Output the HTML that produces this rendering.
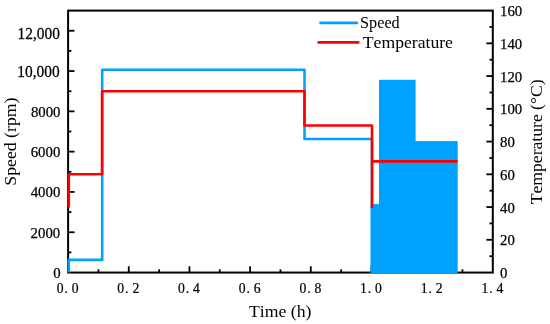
<!DOCTYPE html>
<html><head><meta charset="utf-8"><style>
html,body{margin:0;padding:0;background:#fff;}
svg{display:block;}
text{font-family:"Liberation Serif","Times New Roman",serif;fill:#000;font-kerning:none;}
.tk{stroke:#000;stroke-width:0.25px;}
.xl{stroke:#000;stroke-width:0.25px;}
</style></head><body>
<svg width="550" height="324" viewBox="0 0 550 324">
<rect width="550" height="324" fill="#fff"/>
<g stroke="#000" stroke-width="1.8" fill="none">
<rect x="68.1" y="10.6" width="424.70" height="261.95" fill="none" stroke="#000" stroke-width="2"/>
<line x1="68.1" y1="252.40" x2="71.40" y2="252.40"/>
<line x1="68.1" y1="232.25" x2="74.50" y2="232.25"/>
<line x1="68.1" y1="212.10" x2="71.40" y2="212.10"/>
<line x1="68.1" y1="191.95" x2="74.50" y2="191.95"/>
<line x1="68.1" y1="171.80" x2="71.40" y2="171.80"/>
<line x1="68.1" y1="151.65" x2="74.50" y2="151.65"/>
<line x1="68.1" y1="131.50" x2="71.40" y2="131.50"/>
<line x1="68.1" y1="111.35" x2="74.50" y2="111.35"/>
<line x1="68.1" y1="91.20" x2="71.40" y2="91.20"/>
<line x1="68.1" y1="71.05" x2="74.50" y2="71.05"/>
<line x1="68.1" y1="50.90" x2="71.40" y2="50.90"/>
<line x1="68.1" y1="30.75" x2="74.50" y2="30.75"/>
<line x1="492.8" y1="256.18" x2="489.50" y2="256.18"/>
<line x1="492.8" y1="239.81" x2="486.40" y2="239.81"/>
<line x1="492.8" y1="223.43" x2="489.50" y2="223.43"/>
<line x1="492.8" y1="207.06" x2="486.40" y2="207.06"/>
<line x1="492.8" y1="190.69" x2="489.50" y2="190.69"/>
<line x1="492.8" y1="174.32" x2="486.40" y2="174.32"/>
<line x1="492.8" y1="157.95" x2="489.50" y2="157.95"/>
<line x1="492.8" y1="141.58" x2="486.40" y2="141.58"/>
<line x1="492.8" y1="125.20" x2="489.50" y2="125.20"/>
<line x1="492.8" y1="108.83" x2="486.40" y2="108.83"/>
<line x1="492.8" y1="92.46" x2="489.50" y2="92.46"/>
<line x1="492.8" y1="76.09" x2="486.40" y2="76.09"/>
<line x1="492.8" y1="59.72" x2="489.50" y2="59.72"/>
<line x1="492.8" y1="43.34" x2="486.40" y2="43.34"/>
<line x1="492.8" y1="26.97" x2="489.50" y2="26.97"/>
<line x1="98.44" y1="272.55" x2="98.44" y2="269.35"/>
<line x1="128.77" y1="272.55" x2="128.77" y2="266.25"/>
<line x1="159.11" y1="272.55" x2="159.11" y2="269.35"/>
<line x1="189.44" y1="272.55" x2="189.44" y2="266.25"/>
<line x1="219.78" y1="272.55" x2="219.78" y2="269.35"/>
<line x1="250.11" y1="272.55" x2="250.11" y2="266.25"/>
<line x1="280.45" y1="272.55" x2="280.45" y2="269.35"/>
<line x1="310.79" y1="272.55" x2="310.79" y2="266.25"/>
<line x1="341.12" y1="272.55" x2="341.12" y2="269.35"/>
<line x1="371.46" y1="272.55" x2="371.46" y2="266.25"/>
<line x1="401.79" y1="272.55" x2="401.79" y2="269.35"/>
<line x1="432.13" y1="272.55" x2="432.13" y2="266.25"/>
<line x1="462.46" y1="272.55" x2="462.46" y2="269.35"/>
</g>
<rect x="370.7" y="204.1" width="8.60" height="69.10" fill="#00A2FF"/>
<rect x="379.0" y="79.8" width="36.60" height="193.40" fill="#00A2FF"/>
<rect x="415.0" y="141.1" width="42.70" height="132.10" fill="#00A2FF"/>
<polyline points="68.80,272.55 68.80,259.90 102.20,259.90 102.20,69.80 304.50,69.80 304.50,139.00 372.00,139.00 372.00,272.55" fill="none" stroke="#00A2FF" stroke-width="2.6" stroke-linejoin="round"/>
<polyline points="68.80,207.40 68.80,174.30 102.10,174.30 102.10,91.20 304.50,91.20 304.50,125.50 372.00,125.50 372.00,207.90" fill="none" stroke="#FF0000" stroke-width="2.6" stroke-linejoin="round"/>
<polyline points="372.00,161.40 457.50,161.40" fill="none" stroke="#FF0000" stroke-width="2.6" stroke-linejoin="round"/>
<text transform="translate(59.90,38.80) scale(1.000,1.030)" font-size="15.4" text-anchor="end" class="tk">12,000</text>
<text transform="translate(59.70,76.60) scale(1.000,1.030)" font-size="15.4" text-anchor="end" class="tk">10,000</text>
<text transform="translate(60.50,117.00)" font-size="14.8" text-anchor="end" class="tk">8000</text>
<text transform="translate(60.30,157.00)" font-size="14.8" text-anchor="end" class="tk">6000</text>
<text transform="translate(60.30,197.10)" font-size="14.8" text-anchor="end" class="tk">4000</text>
<text transform="translate(60.20,237.90)" font-size="14.8" text-anchor="end" class="tk">2000</text>
<text transform="translate(60.60,278.05)" font-size="14.8" text-anchor="end" class="tk">0</text>
<text transform="translate(500.00,278.15)" font-size="14.8" class="tk">0</text>
<text transform="translate(500.00,245.41)" font-size="14.8" class="tk">20</text>
<text transform="translate(500.00,212.66)" font-size="14.8" class="tk">40</text>
<text transform="translate(500.00,179.92)" font-size="14.8" class="tk">60</text>
<text transform="translate(500.00,147.18)" font-size="14.8" class="tk">80</text>
<text transform="translate(500.00,114.43)" font-size="14.8" class="tk">100</text>
<text transform="translate(500.00,81.69)" font-size="14.8" class="tk">120</text>
<text transform="translate(500.00,48.94)" font-size="14.8" class="tk">140</text>
<text transform="translate(500.00,16.20)" font-size="14.8" class="tk">160</text>
<text transform="translate(60.10,292.50) scale(0.900,1.000)" font-size="15.2" text-anchor="middle" class="xl">0</text>
<text transform="translate(66.15,292.50) scale(0.900,1.000)" font-size="15.2" text-anchor="middle" class="xl">.</text>
<text transform="translate(75.15,292.50) scale(0.900,1.000)" font-size="15.2" text-anchor="middle" class="xl">0</text>
<text transform="translate(120.77,292.50) scale(0.900,1.000)" font-size="15.2" text-anchor="middle" class="xl">0</text>
<text transform="translate(126.82,292.50) scale(0.900,1.000)" font-size="15.2" text-anchor="middle" class="xl">.</text>
<text transform="translate(135.82,292.50) scale(0.900,1.000)" font-size="15.2" text-anchor="middle" class="xl">2</text>
<text transform="translate(181.44,292.50) scale(0.900,1.000)" font-size="15.2" text-anchor="middle" class="xl">0</text>
<text transform="translate(187.49,292.50) scale(0.900,1.000)" font-size="15.2" text-anchor="middle" class="xl">.</text>
<text transform="translate(196.49,292.50) scale(0.900,1.000)" font-size="15.2" text-anchor="middle" class="xl">4</text>
<text transform="translate(242.11,292.50) scale(0.900,1.000)" font-size="15.2" text-anchor="middle" class="xl">0</text>
<text transform="translate(248.16,292.50) scale(0.900,1.000)" font-size="15.2" text-anchor="middle" class="xl">.</text>
<text transform="translate(257.16,292.50) scale(0.900,1.000)" font-size="15.2" text-anchor="middle" class="xl">6</text>
<text transform="translate(302.79,292.50) scale(0.900,1.000)" font-size="15.2" text-anchor="middle" class="xl">0</text>
<text transform="translate(308.84,292.50) scale(0.900,1.000)" font-size="15.2" text-anchor="middle" class="xl">.</text>
<text transform="translate(317.84,292.50) scale(0.900,1.000)" font-size="15.2" text-anchor="middle" class="xl">8</text>
<text transform="translate(363.46,292.50) scale(0.900,1.000)" font-size="15.2" text-anchor="middle" class="xl">1</text>
<text transform="translate(369.51,292.50) scale(0.900,1.000)" font-size="15.2" text-anchor="middle" class="xl">.</text>
<text transform="translate(378.51,292.50) scale(0.900,1.000)" font-size="15.2" text-anchor="middle" class="xl">0</text>
<text transform="translate(424.13,292.50) scale(0.900,1.000)" font-size="15.2" text-anchor="middle" class="xl">1</text>
<text transform="translate(430.18,292.50) scale(0.900,1.000)" font-size="15.2" text-anchor="middle" class="xl">.</text>
<text transform="translate(439.18,292.50) scale(0.900,1.000)" font-size="15.2" text-anchor="middle" class="xl">2</text>
<text transform="translate(484.80,292.50) scale(0.900,1.000)" font-size="15.2" text-anchor="middle" class="xl">1</text>
<text transform="translate(490.85,292.50) scale(0.900,1.000)" font-size="15.2" text-anchor="middle" class="xl">.</text>
<text transform="translate(499.85,292.50) scale(0.900,1.000)" font-size="15.2" text-anchor="middle" class="xl">4</text>
<text transform="translate(280.20,316.70) scale(0.985,0.950)" font-size="18" text-anchor="middle">Time (h)</text>
<text transform="translate(16.40,141.60) rotate(-90) scale(1.015,1.000)" font-size="17.5" text-anchor="middle">Speed (rpm)</text>
<text transform="translate(542.40,141.80) rotate(-90) scale(0.990,0.975)" font-size="17.8" text-anchor="middle">Temperature (°C)</text>
<line x1="320.5" y1="22.9" x2="356.9" y2="22.9" stroke="#00A2FF" stroke-width="2.6" stroke-linecap="round"/>
<line x1="318.6" y1="42.4" x2="358.3" y2="42.4" stroke="#FF0000" stroke-width="2.6" stroke-linecap="round"/>
<text transform="translate(360.10,28.40)" font-size="16.2">Speed</text>
<text transform="translate(362.80,47.60)" font-size="17.65">Temperature</text>
</svg>
</body></html>
